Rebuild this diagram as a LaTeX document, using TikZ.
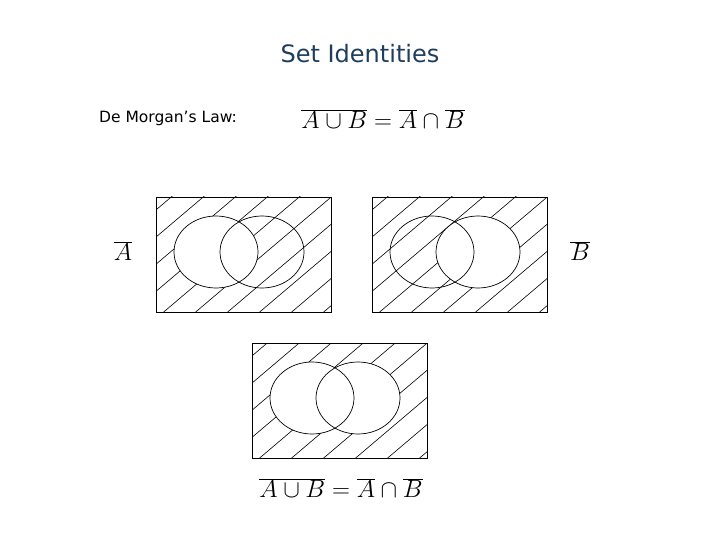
\documentclass[tikz,border=0pt]{standalone}
\usepackage{fontspec}
\newfontfamily\comic{DejaVu Sans}
\definecolor{titleblue}{HTML}{1F3D5C}
\begin{document}
\begin{tikzpicture}[x=1pt,y=-1pt,
  boxline/.style={draw=black,line width=0.9pt},
  circ/.style={draw=black,line width=0.7pt},
  hatch/.style={line width=0.6pt}]
\useasboundingbox (0,0) rectangle (720,540);
\newcommand{\venn}[4]{%
  \begin{scope}[shift={(#1,#2)}]
    \begin{scope}
      \clip (0,0) rectangle (175,115);
      \foreach \k in {-170,-138,...,330} \draw[hatch] (\k,130) -- (\k+165,-10);
      \ifnum#3=1 \fill[white] (60,55) ellipse (42 and 36);\fi
      \ifnum#3=2 \fill[white] (106,55) ellipse (42 and 36);\fi
      \ifnum#3=3 \fill[white] (60,55) ellipse (42 and 36); \fill[white] (106,55) ellipse (42 and 36);\fi
    \end{scope}
    \draw[circ] (60,55) ellipse (42 and 36);
    \draw[circ] (106,55) ellipse (42 and 36);
    \node[boxline,minimum width=175pt,minimum height=115pt,inner sep=0,anchor=north west] (#4) at (0,0) {};
  \end{scope}}
\node[text=titleblue,font=\comic\fontsize{24}{28}\selectfont] (title) at (360,54) {Set Identities};
\node[font=\comic\fontsize{15.5}{18}\selectfont] (dm) at (168,118) {De Morgan’s Law:};
\node[font=\fontsize{27}{32}\selectfont] (law1) at (383,119) {$\overline{A\cup B}=\overline{A}\cap\overline{B}$};
\venn{156}{197}{1}{v1}
\venn{372}{197}{2}{v2}
\venn{252}{343}{3}{v3}
\node[font=\fontsize{27}{32}\selectfont] (la) at (123,251) {$\overline{A}$};
\node[font=\fontsize{27}{32}\selectfont] (lb) at (580,251) {$\overline{B}$};
\node[font=\fontsize{27}{32}\selectfont] (law2) at (341,488) {$\overline{A\cup B}=\overline{A}\cap\overline{B}$};
\end{tikzpicture}
\end{document}
